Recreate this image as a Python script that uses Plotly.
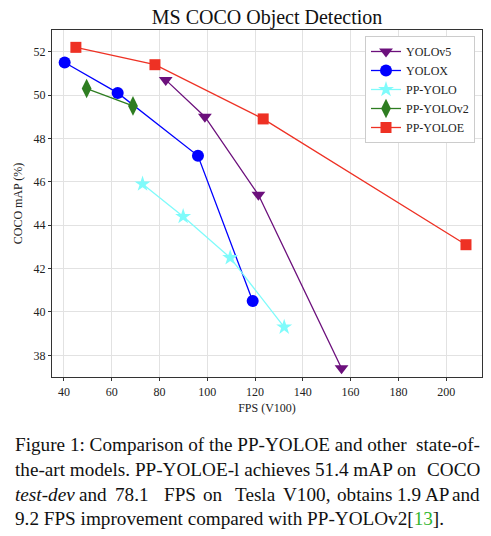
import plotly.graph_objects as go

# FPS (V100) vs COCO mAP for each detector family
yolov5_fps = [82.6, 99.0, 121.4, 156.2]
yolov5_map = [50.7, 49.0, 45.4, 37.4]

yolox_fps = [40.3, 62.5, 96.1, 119.0]
yolox_map = [51.5, 50.1, 47.2, 40.5]

ppyolo_fps = [72.9, 89.9, 109.6, 132.2]
ppyolo_map = [45.9, 44.4, 42.5, 39.3]

ppyolov2_fps = [49.5, 68.9]
ppyolov2_map = [50.3, 49.5]

ppyoloe_fps = [45.0, 78.1, 123.4, 208.3]
ppyoloe_map = [52.2, 51.4, 48.9, 43.1]

x_ticks = [40, 60, 80, 100, 120, 140, 160, 180, 200]
y_ticks = [38, 40, 42, 44, 46, 48, 50, 52]

caption_lines = [
    "Figure 1: Comparison of the PP-YOLOE and other state-of-",
    "the-art models. PP-YOLOE-l achieves 51.4 mAP on COCO",
    "<i>test-dev</i> and 78.1 FPS on Tesla V100, obtains 1.9 AP and",
    "9.2 FPS improvement compared with PP-YOLOv2[<span style='color:#2fb52f'>13</span>].",
]

SERIF = "Liberation Serif"

series = [
    ("YOLOv5", yolov5_fps, yolov5_map, "#6c107c", "triangle-down", 12),
    ("YOLOX", yolox_fps, yolox_map, "#0000ff", "circle", 12),
    ("PP-YOLO", ppyolo_fps, ppyolo_map, "#7ffbfb", "star", 12),
    ("PP-YOLOv2", ppyolov2_fps, ppyolov2_map, "#2e7d21", "diamond-tall", 14),
    ("PP-YOLOE", ppyoloe_fps, ppyoloe_map, "#ee3124", "square", 11),
]

fig = go.Figure()
for name, xs, ys, color, symbol, size in series:
    fig.add_trace(
        go.Scatter(
            x=xs,
            y=ys,
            name=name,
            mode="lines+markers",
            line={"color": color, "width": 1.3},
            marker={"symbol": symbol, "size": size, "color": color},
        )
    )

axis_common = {
    "showgrid": True,
    "gridcolor": "#e2e2e2",
    "gridwidth": 1,
    "showline": True,
    "linecolor": "#333333",
    "linewidth": 1.2,
    "mirror": True,
    "ticks": "outside",
    "ticklen": 3,
    "tickcolor": "#333333",
    "zeroline": False,
    "tickfont": {"family": SERIF, "size": 12, "color": "#222222"},
}

W, H = 491, 536
plot_top, plot_bottom = 30, 377
plot_left, plot_right = 52, 482
plot_h = plot_bottom - plot_top
plot_w = plot_right - plot_left

fig.update_layout(
    width=W,
    height=H,
    margin={"l": plot_left, "r": W - plot_right, "t": plot_top, "b": H - plot_bottom},
    paper_bgcolor="white",
    plot_bgcolor="white",
    font={"family": SERIF, "color": "#222222"},
    title={
        "text": "MS COCO Object Detection",
        "font": {"family": SERIF, "size": 20, "color": "#111111"},
        "x": 267 / W,
        "xanchor": "center",
        "y": 1 - 16.5 / H,
        "yanchor": "middle",
    },
    xaxis={
        **axis_common,
        "range": [35, 215],
        "tickvals": x_ticks,
        "title": {"text": "FPS (V100)", "font": {"family": SERIF, "size": 12}, "standoff": 6},
    },
    yaxis={
        **axis_common,
        "range": [37, 53],
        "tickvals": y_ticks,
        "title": {"text": "COCO mAP (%)", "font": {"family": SERIF, "size": 12}, "standoff": 8},
    },
    legend={
        "x": (365 - plot_left) / plot_w,
        "y": 1 - (36 - plot_top) / plot_h,
        "xanchor": "left",
        "yanchor": "top",
        "bgcolor": "white",
        "bordercolor": "#cccccc",
        "borderwidth": 1,
        "font": {"family": SERIF, "size": 12, "color": "#222222"},
        "itemwidth": 30,
    },
    showlegend=True,
)


def caption_text(text, xpix, ypix, anchor="left"):
    fig.add_annotation(
        text=text,
        xref="paper",
        yref="paper",
        x=(xpix - plot_left) / plot_w,
        y=(plot_bottom - ypix) / plot_h,
        xanchor=anchor,
        yanchor="middle",
        showarrow=False,
        font={"family": SERIF, "size": 19.2, "color": "#111111"},
    )


# caption underneath the chart. The source is justified: lines 1-2 get their
# last word pinned to the right edge, the wide third line is set word by word
# around the word centres.
line_y = [445, 469.5, 494, 518.5]
for line, ypix in zip(caption_lines[:2], line_y[:2]):
    head, last = line.rsplit(" ", 1)
    caption_text(head, 13, ypix)
    caption_text(last, 482, ypix, anchor="right")

words3 = caption_lines[2].replace("</i> ", "</i>\n").replace(" ", "\n").split("\n")
centres3 = [92.5, 132, 180, 213, 255, 306, 364, 409, 437]
caption_text(words3[0], 13, line_y[2])
for word, xpix in zip(words3[1:-1], centres3):
    caption_text(word, xpix, line_y[2], anchor="center")
caption_text(words3[-1], 482, line_y[2], anchor="right")

caption_text(caption_lines[3], 13, line_y[3])

fig.write_html(
    "out.html",
    config={"displayModeBar": False},
    post_script="document.body.style.margin = '0';",
)
